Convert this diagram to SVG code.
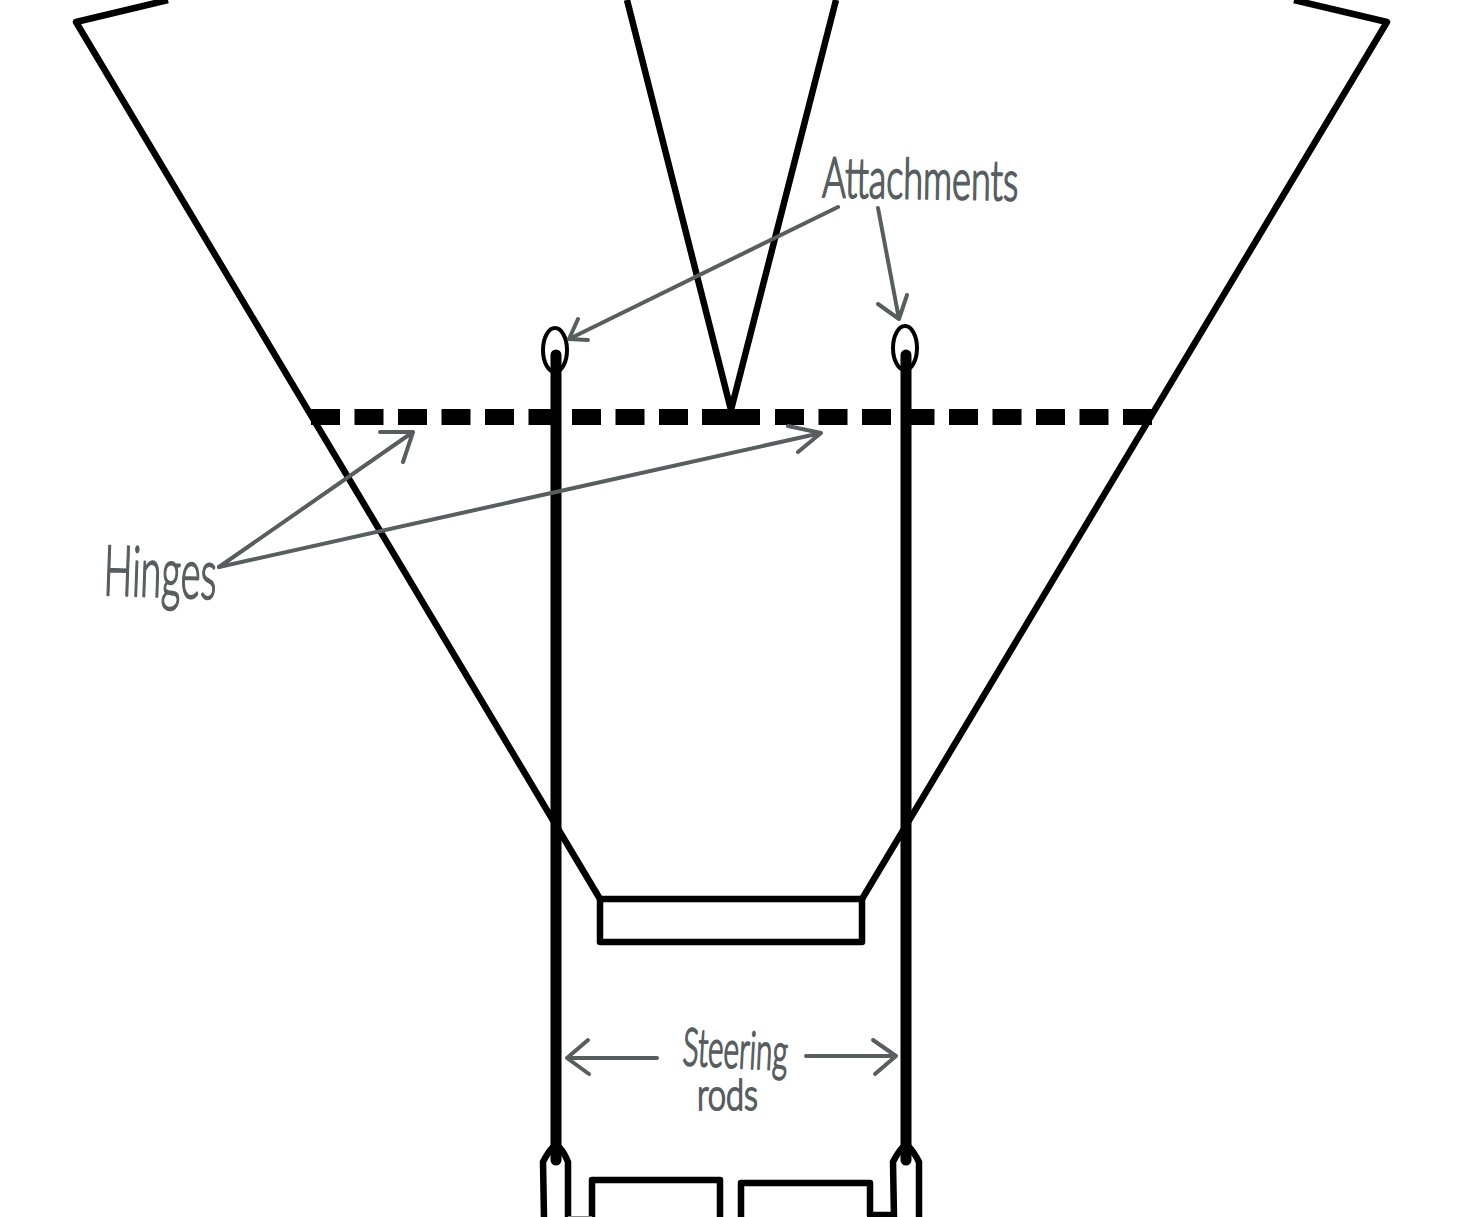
<svg xmlns="http://www.w3.org/2000/svg" width="1465" height="1217" viewBox="0 0 1465 1217">
<style>
.k{fill:none;stroke:#000;stroke-width:6.500;stroke-linejoin:round}
.rod{fill:none;stroke:#000;stroke-width:11;stroke-linecap:round}
.a{fill:none;stroke:#565e60;stroke-width:4;stroke-linecap:round;stroke-linejoin:round}
.t{font-family:"Lato","Open Sans",sans-serif;font-weight:300;fill:#565e60;stroke:#565e60;stroke-width:2;stroke-linejoin:round}
</style>
<rect width="1465" height="1217" fill="#fff"/>
<g id="wing">
<path class="k" d="M168 0L76 22L600 899H862L1387 22L1294 0"/>
<path class="k" d="M600 899V942H862V899"/>
<path class="k" d="M627 0L731 410L836 0"/>
</g>
<g id="hinge">
<path d="M311 417H760M775 417H1152" fill="none" stroke="#000" stroke-width="16" stroke-dasharray="29 14.5"/>
<rect x="702" y="409" width="58" height="16"/>
</g>
<g id="left-rod">
<ellipse class="k" style="stroke-width:4" cx="555" cy="350" rx="12" ry="22"/>
<path class="rod" d="M556 355V1160"/>
</g>
<g id="right-rod">
<ellipse class="k" style="stroke-width:4" cx="905" cy="348" rx="12" ry="22"/>
<path class="rod" d="M906 355V1160"/>
</g>
<g id="bottom">
<path class="k" d="M544 1217L543 1162Q548 1152 553 1147H559Q564 1152 568 1162V1217"/>
<path class="k" d="M894 1217L893 1162Q898 1152 903 1147H909Q914 1152 919 1162V1217"/>
<path class="k" d="M592 1217V1180H720V1217"/>
<path class="k" d="M741 1217V1183H870V1215H893"/>
<path d="M568 1216.500H592" stroke="#888" stroke-width="1"/>
</g>
<g id="connectors">
<path class="a" d="M838 207L569 339M578 319L569 339L588 340"/>
<path class="a" d="M878 208L899 319M878 304L899 319L907 295"/>
<path class="a" d="M219 567L413 432M380 432L413 432L403 462"/>
<path class="a" d="M219 567L821 433M788 426L821 433L798 452"/>
<path class="a" d="M657 1058H567M588 1040L567 1058L589 1074"/>
<path class="a" d="M806 1056H896M873 1040L896 1056L875 1074"/>
</g>
<g id="labels">
<text class="t" x="822" y="197" font-size="56" textLength="196" lengthAdjust="spacingAndGlyphs" transform="rotate(1 822 197)">Attachments</text>
<text class="t" x="103" y="595" font-size="70" textLength="113" lengthAdjust="spacingAndGlyphs" transform="rotate(2 103 595)">Hinges</text>
<text class="t" x="682" y="1065" font-size="52" textLength="105" lengthAdjust="spacingAndGlyphs" transform="rotate(3 682 1065)">Steering</text>
<text class="t" x="697" y="1110" font-size="44" textLength="61" lengthAdjust="spacingAndGlyphs">rods</text>
</g>
</svg>
